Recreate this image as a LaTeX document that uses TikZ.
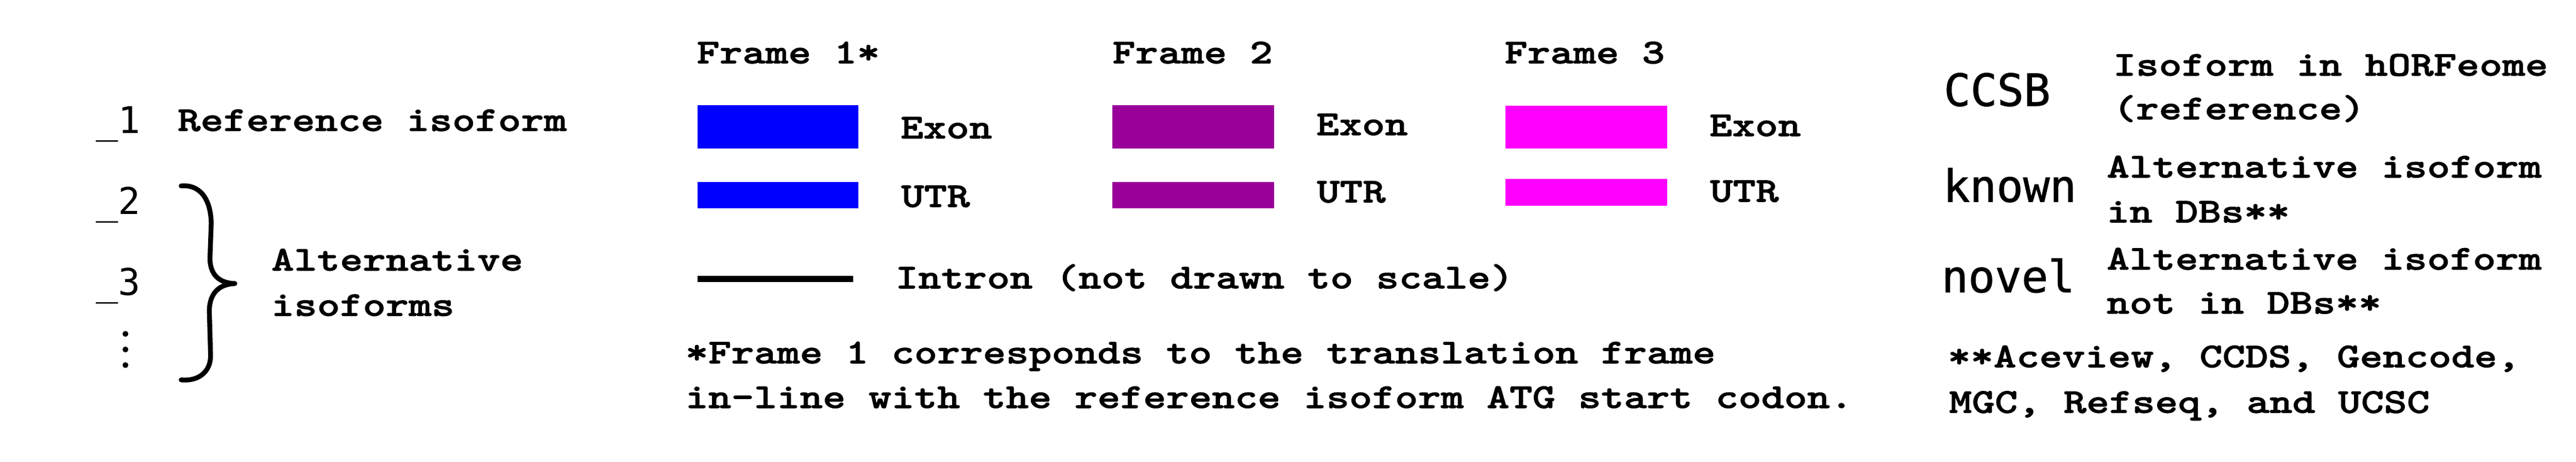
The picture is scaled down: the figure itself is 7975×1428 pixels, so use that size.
\documentclass[tikz,border=0pt]{standalone}
\usepackage{fontspec}
\newfontfamily\courfont{lmmonolt10-bold}[Extension=.otf, FakeStretch=1.25, FakeBold=1.6]
\newfontfamily\pixfont{DejaVu Sans Mono}
\newfontfamily\tagfont{DejaVu Sans Mono}[FakeBold=1.2]
\definecolor{frone}{RGB}{0,0,255}
\definecolor{frtwo}{RGB}{153,0,153}
\definecolor{frthree}{RGB}{255,0,255}
\tikzset{
  lbl/.style={anchor=base west, inner sep=0pt, outer sep=0pt,
    font=\courfont\fontsize{10.8pt}{13.7pt}\selectfont},
  numlbl/.style={anchor=base west, inner sep=0pt, outer sep=0pt,
    font=\pixfont\fontsize{11.4pt}{12pt}\selectfont},
  taglbl/.style={anchor=base west, inner sep=0pt, outer sep=0pt,
    font=\tagfont\fontsize{13.7pt}{14pt}\selectfont},
  exonbar/.style={fill=#1, draw=none},
  intronline/.style={line width=1.8pt, draw=black},
  bracestroke/.style={line width=1.5pt, line cap=round, line join=round, draw=black},
}
\begin{document}
\begin{tikzpicture}[x=0.1pt,y=-0.1pt]
\useasboundingbox (0,0) rectangle (7975,1428);
% left column
\node[numlbl] (n1) at (298,412.6) {\_1};
\node[numlbl] (n2) at (298,662.3) {\_2};
\node[numlbl] (n3) at (298,912.3) {\_3};
\fill (388.3,1032.7) circle (9);
\fill (388.3,1081) circle (9);
\fill (388.3,1129.3) circle (9);
\node[lbl] (refiso) at (550,405) {Reference isoform};
\draw[bracestroke] (561,575) .. controls (615,570) and (652,610) .. (654,690)
   -- (650,800) .. controls (651,860) and (690,876) .. (727,877)
   .. controls (690,879) and (650,895) .. (648,960)
   -- (652,1100) .. controls (652,1150) and (615,1180) .. (561,1175);
\node[lbl] (alt1) at (840,837) {Alternative};
\node[lbl] (alt2) at (840,977) {isoforms};
% middle column
\node[lbl] (f1) at (2157,196) {Frame 1*};
\node[lbl] (f2) at (3444,196) {Frame 2};
\node[lbl] (f3) at (4658,196) {Frame 3};
\fill[exonbar=frone] (2159,326) rectangle (2658,460);
\fill[exonbar=frone] (2159,563) rectangle (2658,645);
\fill[exonbar=frtwo] (3444,326) rectangle (3944,460);
\fill[exonbar=frtwo] (3444,563) rectangle (3944,645);
\fill[exonbar=frthree] (4661,327) rectangle (5161,460);
\fill[exonbar=frthree] (4661,553) rectangle (5161,637);
\node[lbl] (e1) at (2788,428) {Exon};
\node[lbl] (u1) at (2790,640) {UTR};
\node[lbl] (e2) at (4075,418) {Exon};
\node[lbl] (u2) at (4077,626) {UTR};
\node[lbl] (e3) at (5292,421) {Exon};
\node[lbl] (u3) at (5294,624) {UTR};
\coordinate (inA) at (2159,863);
\coordinate (inB) at (2641,863);
\draw[intronline] (inA) -- (inB);
\node[lbl] (intron) at (2772,892) {Intron (not drawn to scale)};
\node[lbl] (foot1) at (2122,1124) {*Frame 1 corresponds to the translation frame};
\node[lbl] (foot2) at (2122,1262) {in-line with the reference isoform ATG start codon.};
% right column
\node[taglbl] (ccsb) at (6018,327.3) {CCSB};
\node[taglbl] (known) at (6016,624) {known};
\node[taglbl] (novel) at (6011,904) {novel};
\node[lbl] (r1a) at (6542,234) {Isoform in hORFeome};
\node[lbl] (r1b) at (6542,369) {(reference)};
\node[lbl] (r2a) at (6522,549) {Alternative isoform};
\node[lbl] (r2b) at (6522,688) {in DBs**};
\node[lbl] (r3a) at (6522,834) {Alternative isoform};
\node[lbl] (r3b) at (6522,970) {not in DBs**};
\node[lbl] (db1) at (6030,1136) {**Aceview, CCDS, Gencode,};
\node[lbl] (db2) at (6034,1277) {MGC, Refseq, and UCSC};
\end{tikzpicture}
\end{document}
